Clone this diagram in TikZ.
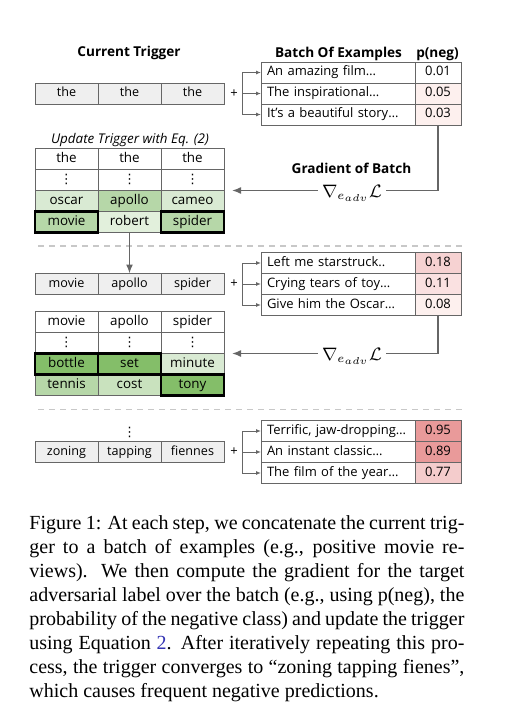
\documentclass[tikz,border=0pt]{standalone}
\usepackage{fontspec}
\setmainfont{Liberation Serif}
\newfontfamily\slidefont{Open Sans}
\newfontfamily\symfont{DejaVu Sans}
\usetikzlibrary{arrows.meta}

\definecolor{edgegray}{HTML}{666666}
\definecolor{sepgray}{HTML}{C8C8C8}
\definecolor{trigfill}{HTML}{EFEFEF}
\definecolor{gLite}{HTML}{E2F0DC}
\definecolor{gA}{HTML}{D9EAD3}
\definecolor{gCost}{HTML}{C9E2BE}
\definecolor{gB}{HTML}{B6D7A8}
\definecolor{gC}{HTML}{84BE69}
\definecolor{pA}{HTML}{FDF0EE}
\definecolor{pB}{HTML}{FAE1E1}
\definecolor{pC}{HTML}{F6D2D2}
\definecolor{pD}{HTML}{F4CCCC}
\definecolor{pE}{HTML}{E99A9A}
\definecolor{linkblue}{HTML}{3333B3}

\newcommand{\capline}[1]{\hbox to 217.5pt{#1}}
\newcommand{\cdotsup}{{\symfont\fontsize{6.5}{7}\selectfont ⋮}}

\tikzset{
    cell/.style = {draw = edgegray, line width = 0.5pt, minimum width = 31.5pt, minimum height = 10.5pt,
        inner sep = 0pt, outer sep = 0pt, text height = 4.8pt, text depth = 1.4pt,
        font = \slidefont\fontsize{6.3}{7}\selectfont},
    trigcell/.style = {cell, fill = trigfill},
    candcell/.style = {cell, fill = white, font = \slidefont\fontsize{6.7}{7.5}\selectfont},
    sentcell/.style = {cell, fill = white, minimum width = 77pt, text width = 71pt, inner xsep = 3pt,
        align = left, font = \slidefont\fontsize{6.5}{7.5}\selectfont},
    probcell/.style = {cell, minimum width = 23pt, font = \slidefont\fontsize{6.5}{7.5}\selectfont},
    header/.style = {inner sep = 0pt, font = \slidefont\bfseries\fontsize{6.8}{8}\selectfont},
    pickline/.style = {draw = black, line width = 1.1pt},
    feed/.style = {draw = edgegray, line width = 0.5pt, -{Latex[length = 2.5pt, width = 2pt]}},
    grad/.style = {draw = edgegray, line width = 0.75pt, -{Latex[length = 4.5pt, width = 3.5pt]}},
    gradlabel/.style = {fill = white, inner sep = 2pt, font = \fontsize{9}{11}\selectfont},
    sep/.style = {draw = sepgray, line width = 0.8pt, dash pattern = on 3pt off 2.5pt},
}

\begin{document}
\begin{tikzpicture}[x = 0.5pt, y = -0.5pt]
    \useasboundingbox (0, 0) rectangle (506, 718);

    % headers
    \node [header] (curhead) at (129, 52.5) {Current Trigger};
    \node [header] (batchhead) at (338.5, 54) {Batch Of Examples};
    \node [header] (neghead) at (437.5, 54) {p(neg)};
    \node [inner sep = 0pt, font = \slidefont\itshape\fontsize{6.7}{8}\selectfont] (updhead) at (130, 140) {Update Trigger with Eq. (2)};
    \node [header] (gradhead) at (351.5, 168) {Gradient of Batch};

    % step 1
    \foreach \w [count = \i] in {the, the, the}
        \node [trigcell] (tA\i) at (3.5 + 63*\i, 93.5) {\w};
    \foreach \w [count = \i] in {An amazing film\dots, The inspirational\dots, It’s a beautiful story\dots}
        \node [sentcell] (bAs\i) at (338, 51.5 + 21*\i) {\w};
    \foreach \p/\c [count = \i] in {0.01/white, 0.05/pA, 0.03/pA}
        \node [probcell, fill = \c] (bAp\i) at (438, 51.5 + 21*\i) {\p};
    \node [inner sep = 0pt, font = \slidefont\fontsize{6.5}{7.5}\selectfont] (plusA) at (234, 93.5) {+};
    \coordinate (brA) at (242, 0);
    \draw [edgegray, line width = 0.5pt] (brA |- bAs1) -- (brA |- bAs3);
    \foreach \i in {1, 2, 3}
        \draw [feed] (brA |- bAs\i) -- (bAs\i.west);

    \foreach \w [count = \i] in {the, the, the}
        \node [candcell] (uAa\i) at (3.5 + 63*\i, 159) {\w};
    \foreach \i in {1, 2, 3}
        \node [candcell] (uAb\i) at (3.5 + 63*\i, 180) {\cdotsup};
    \foreach \w/\c [count = \i] in {oscar/gA, apollo/gB, cameo/gA}
        \node [candcell, fill = \c] (uAc\i) at (3.5 + 63*\i, 201) {\w};
    \foreach \w/\c [count = \i] in {movie/gB, robert/gLite, spider/gB}
        \node [candcell, fill = \c] (uAd\i) at (3.5 + 63*\i, 222) {\w};
    \foreach \n in {uAd1, uAd3}
        \draw [pickline] (\n.south west) rectangle (\n.north east);

    \draw [grad] (bAp3.south) |- ([xshift = 4pt]uAb3.south east);
    \node [gradlabel, anchor = base] (nablaA) at (352, 197) {$\nabla_{e_{adv}}\mathcal{L}$};

    \draw [sep] (38, 246) -- (462, 246);

    % step 2
    \foreach \w [count = \i] in {movie, apollo, spider}
        \node [trigcell] (tB\i) at (3.5 + 63*\i, 284) {\w};
    \draw [grad] (uAd2.south) -- (tB2.north);
    \foreach \w [count = \i] in {Left me starstruck.., Crying tears of toy\dots, Give him the Oscar\dots}
        \node [sentcell] (bBs\i) at (338, 242 + 21*\i) {\w};
    \foreach \p/\c [count = \i] in {0.18/pC, 0.11/pB, 0.08/pA}
        \node [probcell, fill = \c] (bBp\i) at (438, 242 + 21*\i) {\p};
    \node [inner sep = 0pt, font = \slidefont\fontsize{6.5}{7.5}\selectfont] (plusB) at (234, 284) {+};
    \coordinate (brB) at (242, 0);
    \draw [edgegray, line width = 0.5pt] (brB |- bBs1) -- (brB |- bBs3);
    \foreach \i in {1, 2, 3}
        \draw [feed] (brB |- bBs\i) -- (bBs\i.west);

    \foreach \w [count = \i] in {movie, apollo, spider}
        \node [candcell] (uBa\i) at (3.5 + 63*\i, 322) {\w};
    \foreach \i in {1, 2, 3}
        \node [candcell] (uBb\i) at (3.5 + 63*\i, 343) {\cdotsup};
    \foreach \w/\c [count = \i] in {bottle/gC, set/gC, minute/gA}
        \node [candcell, fill = \c] (uBc\i) at (3.5 + 63*\i, 364) {\w};
    \foreach \w/\c [count = \i] in {tennis/gB, cost/gCost, tony/gC}
        \node [candcell, fill = \c] (uBd\i) at (3.5 + 63*\i, 385) {\w};
    \foreach \n in {uBc1, uBc2, uBd3}
        \draw [pickline] (\n.south west) rectangle (\n.north east);

    \draw [grad] (bBp3.south) |- ([xshift = 4pt]uBb3.south east);
    \node [gradlabel, anchor = base] (nablaB) at (352, 360) {$\nabla_{e_{adv}}\mathcal{L}$};

    \draw [sep] (38, 409.5) -- (462, 409.5);

    % final step
    \node [inner sep = 0pt] (moreC) at (129.5, 432) {\cdotsup};
    \foreach \w [count = \i] in {zoning, tapping, fiennes}
        \node [trigcell] (tC\i) at (3.5 + 63*\i, 452) {\w};
    \foreach \w [count = \i] in {{Terrific, jaw-dropping\dots}, An instant classic\dots, The film of the year\dots}
        \node [sentcell] (bCs\i) at (338, 410 + 21*\i) {\w};
    \foreach \p/\c [count = \i] in {0.95/pE, 0.89/pE, 0.77/pD}
        \node [probcell, fill = \c] (bCp\i) at (438, 410 + 21*\i) {\p};
    \node [inner sep = 0pt, font = \slidefont\fontsize{6.5}{7.5}\selectfont] (plusC) at (234, 452) {+};
    \coordinate (brC) at (242, 0);
    \draw [edgegray, line width = 0.5pt] (brC |- bCs1) -- (brC |- bCs3);
    \foreach \i in {1, 2, 3}
        \draw [feed] (brC |- bCs\i) -- (bCs\i.west);

    % caption
    \node [anchor = north west, inner sep = 0pt, align = left, font = \fontsize{10}{12}\selectfont] (caption) at (29, 515.5) {%
        \capline{Figure 1: At each step, we concatenate the current trig-}\\
        \capline{ger to a batch of examples (e.g., positive movie re-}\\
        \capline{views).  We then compute the gradient for the target}\\
        \capline{adversarial label over the batch (e.g., using p(neg), the}\\
        \capline{probability of the negative class) and update the trigger}\\
        \capline{using Equation {\color{linkblue}2}.  After iteratively repeating this pro-}\\
        \capline{cess, the trigger converges to ``zoning tapping fienes'',}\\
        which causes frequent negative predictions.};
\end{tikzpicture}
\end{document}
